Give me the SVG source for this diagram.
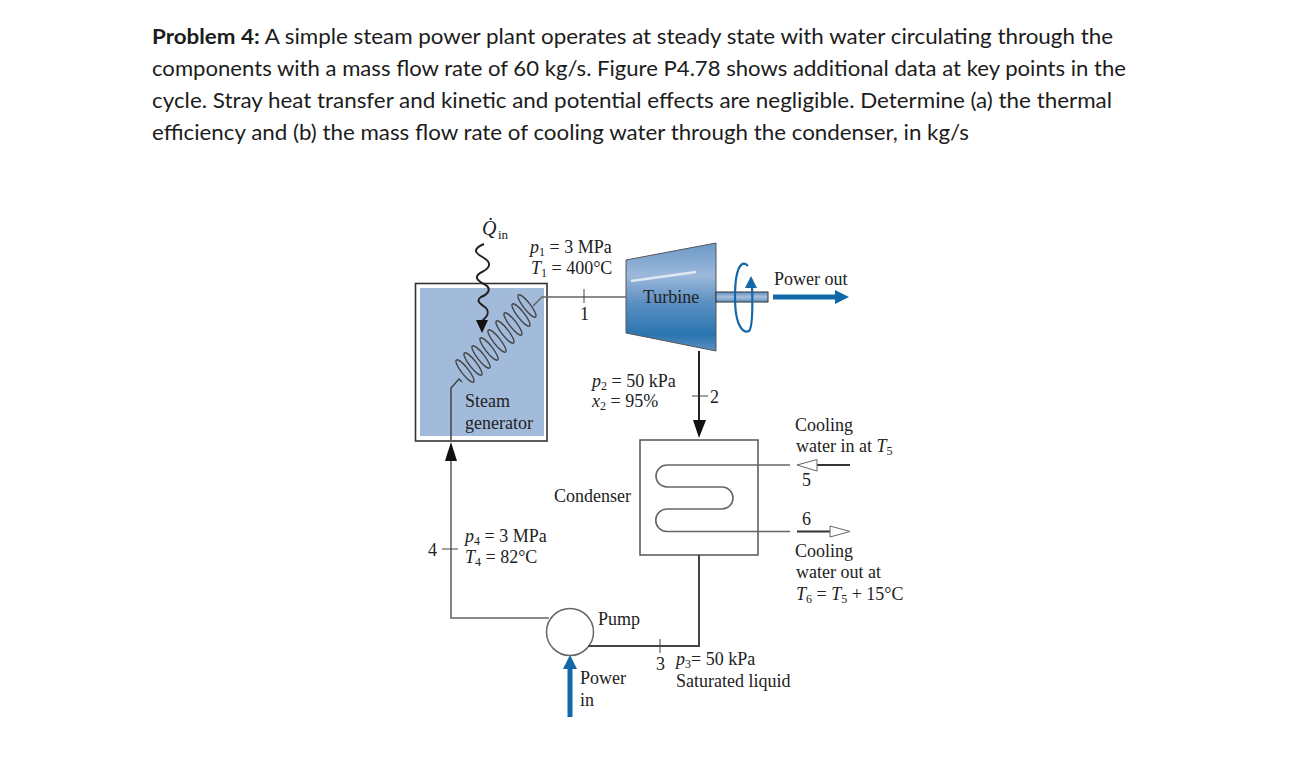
<svg xmlns="http://www.w3.org/2000/svg" width="1303" height="766" viewBox="0 0 1303 766">
<style>
.t{font-family:"Lato","Open Sans","Liberation Sans",sans-serif;font-size:21.5px;fill:#1c1c1c}
.b{font-weight:700}
.d{font-family:"Liberation Serif",serif;font-size:18px;fill:#222}
.i{font-style:italic}
.s{font-size:12px}
.p{fill:none;stroke:#444;stroke-width:2}
.g{fill:none;stroke:#666;stroke-width:1.6}
.c{fill:none;stroke:#444;stroke-width:1.4}
.blue{fill:#1268a8}
.k{fill:#111}
</style>
<defs>
<linearGradient id="tg" x1="0" y1="0" x2="0" y2="1">
<stop offset="0" stop-color="#6b98c8"/><stop offset=".3" stop-color="#9cb8da"/><stop offset=".55" stop-color="#5c90c2"/><stop offset=".85" stop-color="#2a75b0"/><stop offset="1" stop-color="#5c90c2"/>
</linearGradient>
<linearGradient id="sg" x1="0" y1="0" x2="0" y2="1">
<stop offset="0" stop-color="#5f8fc0"/><stop offset=".5" stop-color="#a8c0de"/><stop offset="1" stop-color="#5f8fc0"/>
</linearGradient>
</defs>
<rect width="1303" height="766" fill="#fff"/>
<g id="problem-text">
<text class="t" x="152" y="44" textLength="961" lengthAdjust="spacingAndGlyphs"><tspan class="b">Problem 4:</tspan> A simple steam power plant operates at steady state with water circulating through the</text>
<text class="t" x="152" y="76" textLength="974" lengthAdjust="spacingAndGlyphs">components with a mass flow rate of 60 kg/s. Figure P4.78 shows additional data at key points in the</text>
<text class="t" x="152" y="108" textLength="960" lengthAdjust="spacingAndGlyphs">cycle. Stray heat transfer and kinetic and potential effects are negligible. Determine (a) the thermal</text>
<text class="t" x="152" y="140" textLength="817" lengthAdjust="spacingAndGlyphs">efficiency and (b) the mass flow rate of cooling water through the condenser, in kg/s</text>
</g>
<g id="steam-generator">
<rect x="415.500" y="283.500" width="131.500" height="157.500" fill="#fff" stroke="#333" stroke-width="1.600"/>
<rect x="420" y="288" width="124" height="148" fill="#a3bbdb"/>
<g class="c">
<ellipse cx="465" cy="371" rx="14" ry="3.500" transform="rotate(52 465 371)"/>
<ellipse cx="473" cy="364" rx="14" ry="3.500" transform="rotate(52 473 364)"/>
<ellipse cx="481" cy="357" rx="14" ry="3.500" transform="rotate(52 481 357)"/>
<ellipse cx="489" cy="349" rx="14" ry="3.500" transform="rotate(52 489 349)"/>
<ellipse cx="497" cy="341" rx="14" ry="3.500" transform="rotate(52 497 341)"/>
<ellipse cx="505" cy="332" rx="14" ry="3.500" transform="rotate(52 505 332)"/>
<ellipse cx="513" cy="324" rx="14" ry="3.500" transform="rotate(52 513 324)"/>
<ellipse cx="521" cy="315" rx="14" ry="3.500" transform="rotate(52 521 315)"/>
<ellipse cx="527" cy="306" rx="14" ry="3.500" transform="rotate(52 527 306)"/>
</g>
<text class="d" x="465" y="407">Steam</text>
<text class="d" x="465" y="429">generator</text>
</g>
<g id="turbine">
<polygon points="626,260 716,243 716,351 626,333" fill="url(#tg)" stroke="#555" stroke-width="1"/>
<path d="M631 281 L696 272" stroke="#dfe8f3" stroke-width="2.500" fill="none"/>
<rect x="716" y="292" width="52" height="10" fill="url(#sg)" stroke="#333" stroke-width="1"/>
<text class="d" x="643" y="303">Turbine</text>
<path d="M748 266 C743 260 735 264 735 297 C735 330 745 333 749 331 C752 328 753 315 752 286" fill="none" stroke="#1268a8" stroke-width="2.200"/>
<polygon class="blue" points="751,276 757,288 745,288"/>
</g>
<g id="condenser">
<rect x="640" y="440" width="118" height="115" fill="none" stroke="#555" stroke-width="1.500"/>
<path class="g" d="M790 465 H667 A11 11 0 0 0 667 487 H722 A11 11 0 0 1 722 509 H667 A11 11 0 0 0 667 531.500 H790"/>
<text class="d" x="554" y="502">Condenser</text>
</g>
<g id="pump">
<circle cx="570" cy="632" r="23.500" fill="#fff" stroke="#666" stroke-width="1.500"/>
<text class="d" x="598" y="625">Pump</text>
</g>
<g id="connectors">
<path class="g" d="M484 244 C470 250 477 254 484 258 C492 263 490 268 482 272 C474 276 476 280 484 284 C492 288 489 294 481 297 C475 301 481 304 486 308 C490 313 487 317 482 321" style="stroke:#222;stroke-width:2"/>
<polygon class="k" points="476,320 488,320 482,333"/>
<path class="p" d="M451 440 V388 L459 379 L462 382" style="stroke-width:1.500"/>
<path class="p" d="M533 306 L542 297 H626" style="stroke:#666;stroke-width:1.500"/>
<path class="p" d="M584 289 V303" style="stroke-width:1"/>
<path class="p" d="M699 351 V422" style="stroke:#222"/>
<polygon class="k" points="693,420 706,420 699,438"/>
<path class="p" d="M692 396 H708" style="stroke-width:1"/>
<polygon class="k" points="445,461 457,461 451,442"/>
<path class="g" d="M451 461 V618 H549"/>
<path class="p" d="M442 549 H458" style="stroke-width:1"/>
<path class="p" d="M699 555 V646 H588"/>
<path class="p" d="M660 639 V653" style="stroke-width:1"/>
<path d="M850 465 H817" stroke="#333" stroke-width="2" fill="none"/>
<polygon points="797,465 817,459.500 817,471" fill="#fff" stroke="#666" stroke-width="1"/>
<path d="M797 531.500 H830" stroke="#333" stroke-width="2" fill="none"/>
<polygon points="830,526 850,531.500 830,537" fill="#fff" stroke="#666" stroke-width="1"/>
<path d="M773 297 H836" stroke="#1268a8" stroke-width="5" fill="none"/>
<polygon class="blue" points="835,290 849,297 835,304"/>
<path d="M570 717 V666" stroke="#1268a8" stroke-width="5" fill="none"/>
<polygon class="blue" points="563,669 577,669 570,655"/>
</g>
<g id="labels">
<text class="d i" x="482" y="235" style="font-size:20px">Q̇</text>
<text class="d" x="498" y="239" style="font-size:13px">in</text>
<text class="d" x="530" y="253"><tspan class="i">p</tspan><tspan class="s" dy="3">1</tspan><tspan dy="-3"> = 3 MPa</tspan></text>
<text class="d" x="531" y="274"><tspan class="i">T</tspan><tspan class="s" dy="3">1</tspan><tspan dy="-3"> = 400°C</tspan></text>
<text class="d" x="580" y="320">1</text>
<text class="d" x="774" y="285">Power out</text>
<text class="d" x="592" y="387"><tspan class="i">p</tspan><tspan class="s" dy="3">2</tspan><tspan dy="-3"> = 50 kPa</tspan></text>
<text class="d" x="592" y="407"><tspan class="i">x</tspan><tspan class="s" dy="3">2</tspan><tspan dy="-3"> = 95%</tspan></text>
<text class="d" x="710" y="403">2</text>
<text class="d" x="795" y="431">Cooling</text>
<text class="d" x="796" y="452">water in at <tspan class="i">T</tspan><tspan class="s" dy="3">5</tspan></text>
<text class="d" x="802" y="486">5</text>
<text class="d" x="802" y="525">6</text>
<text class="d" x="795" y="557">Cooling</text>
<text class="d" x="796" y="578">water out at</text>
<text class="d" x="796" y="600"><tspan class="i">T</tspan><tspan class="s" dy="3">6</tspan><tspan dy="-3"> = </tspan><tspan class="i">T</tspan><tspan class="s" dy="3">5</tspan><tspan dy="-3"> + 15°C</tspan></text>
<text class="d" x="428" y="556">4</text>
<text class="d" x="465" y="542"><tspan class="i">p</tspan><tspan class="s" dy="3">4</tspan><tspan dy="-3"> = 3 MPa</tspan></text>
<text class="d" x="465" y="563"><tspan class="i">T</tspan><tspan class="s" dy="3">4</tspan><tspan dy="-3"> = 82°C</tspan></text>
<text class="d" x="656" y="670">3</text>
<text class="d" x="676" y="665"><tspan class="i">p</tspan><tspan class="s" dy="3">3</tspan><tspan dy="-3">= 50 kPa</tspan></text>
<text class="d" x="676" y="687">Saturated liquid</text>
<text class="d" x="580" y="684">Power</text>
<text class="d" x="580" y="706">in</text>
</g>
</svg>
